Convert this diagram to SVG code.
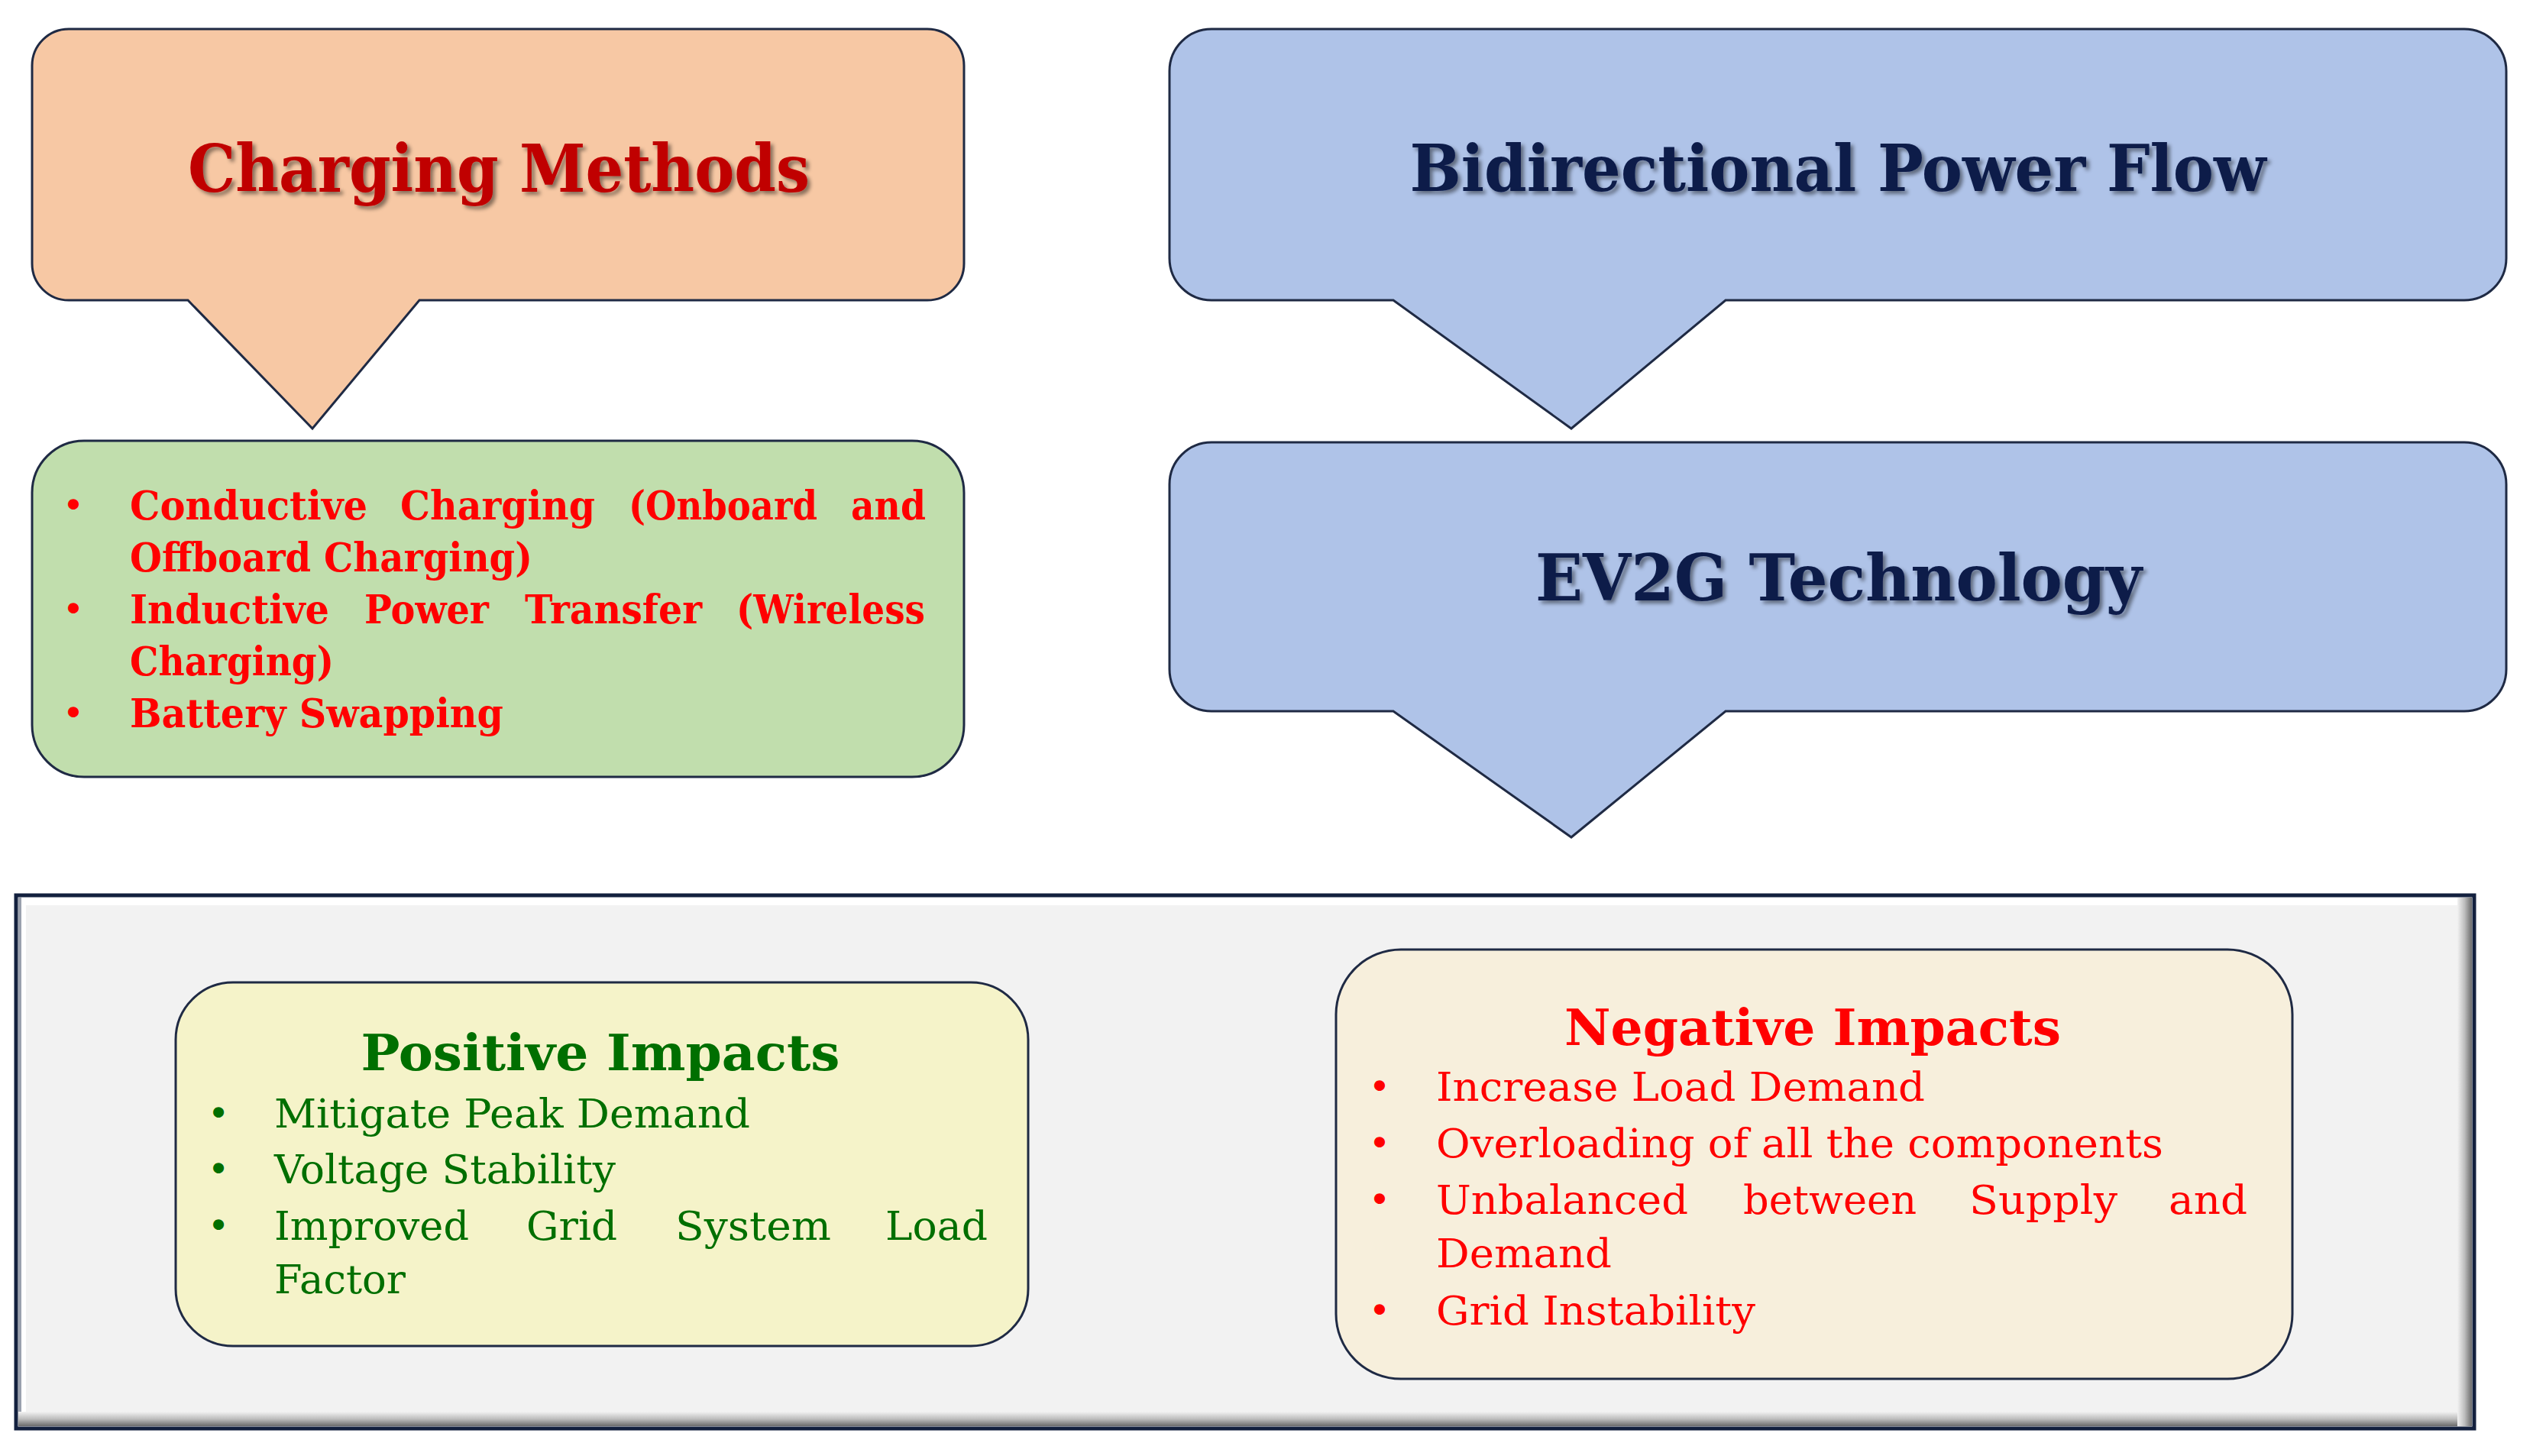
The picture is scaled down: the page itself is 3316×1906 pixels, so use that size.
<svg xmlns="http://www.w3.org/2000/svg" width="3316" height="1906" viewBox="0 0 3316 1906">
<defs>
<style>
.box{stroke:#1F2A44;stroke-width:3}
.title{font-family:"DejaVu Serif","Liberation Serif",serif;font-weight:bold;text-anchor:middle}
.bb{font-family:"DejaVu Serif","Liberation Serif",serif;font-weight:bold;font-size:52px;fill:#FF0000}
.pos{font-family:"DejaVu Serif","Liberation Serif",serif;font-size:52px;fill:#006F00}
.neg{font-family:"DejaVu Serif","Liberation Serif",serif;font-size:52px;fill:#FF0000}
.bul{font-size:40px;text-anchor:middle}
</style>
<filter id="sh" x="-10%" y="-30%" width="120%" height="160%">
<feDropShadow dx="4" dy="4" stdDeviation="2.5" flood-color="#000" flood-opacity="0.45"/>
</filter>
<linearGradient id="gb" x1="0" y1="0" x2="0" y2="1">
<stop offset="0" stop-color="#f2f2f2"/>
<stop offset="0.5" stop-color="#bdbdbd"/>
<stop offset="1" stop-color="#6b6b6b"/>
</linearGradient>
<linearGradient id="gr" x1="0" y1="0" x2="1" y2="0">
<stop offset="0" stop-color="#f2f2f2"/>
<stop offset="0.5" stop-color="#bdbdbd"/>
<stop offset="1" stop-color="#6b6b6b"/>
</linearGradient>
</defs>

<g id="panel">
<rect x="21" y="1172" width="3218" height="698" fill="#F2F2F2" stroke="#13203E" stroke-width="5"/>
<rect x="24" y="1175" width="3212" height="10" fill="#FFFFFF"/>
<rect x="24" y="1175" width="10" height="692" fill="#FFFFFF"/>
<rect x="24" y="1175" width="4" height="692" fill="#9aa0ad"/>
<rect x="24" y="1848" width="3212" height="19" fill="url(#gb)"/>
<rect x="3217" y="1175" width="19" height="692" fill="url(#gr)"/>
</g>

<g id="charging-methods">
<path class="box" fill="#F7C8A4" d="M90,38 H1214 A48,48 0 0 1 1262,86 V345 A48,48 0 0 1 1214,393 H549 L409,561 L246,393 H90 A48,48 0 0 1 42,345 V86 A48,48 0 0 1 90,38 Z"/>
<text class="title" x="653" y="251" font-size="86" fill="#C00000" filter="url(#sh)" textLength="814" lengthAdjust="spacingAndGlyphs">Charging Methods</text>
</g>

<g id="charging-list">
<rect class="box" x="42" y="577" width="1220" height="440" rx="68" ry="68" fill="#C1DEAD"/>
<text class="bb bul" x="96" y="675">•</text>
<text class="bb" x="170" y="680" textLength="311" lengthAdjust="spacingAndGlyphs">Conductive</text>
<text class="bb" x="524" y="680" textLength="255" lengthAdjust="spacingAndGlyphs">Charging</text>
<text class="bb" x="823" y="680" textLength="247" lengthAdjust="spacingAndGlyphs">(Onboard</text>
<text class="bb" x="1114" y="680" textLength="98" lengthAdjust="spacingAndGlyphs">and</text>
<text class="bb" x="170" y="748" textLength="527" lengthAdjust="spacingAndGlyphs">Offboard Charging)</text>
<text class="bb bul" x="96" y="811">•</text>
<text class="bb" x="170" y="816" textLength="261" lengthAdjust="spacingAndGlyphs">Inductive</text>
<text class="bb" x="477" y="816" textLength="163" lengthAdjust="spacingAndGlyphs">Power</text>
<text class="bb" x="687" y="816" textLength="232" lengthAdjust="spacingAndGlyphs">Transfer</text>
<text class="bb" x="964" y="816" textLength="247" lengthAdjust="spacingAndGlyphs">(Wireless</text>
<text class="bb" x="170" y="884" textLength="267" lengthAdjust="spacingAndGlyphs">Charging)</text>
<text class="bb bul" x="96" y="947">•</text>
<text class="bb" x="170" y="952" textLength="489" lengthAdjust="spacingAndGlyphs">Battery Swapping</text>
</g>

<g id="bidirectional">
<path class="box" fill="#AFC3E8" d="M1586,38 H3226 A55,55 0 0 1 3281,93 V338 A55,55 0 0 1 3226,393 H2259 L2057,561 L1824,393 H1586 A55,55 0 0 1 1531,338 V93 A55,55 0 0 1 1586,38 Z"/>
<text class="title" x="2406" y="250" font-size="84" fill="#0A1A4A" filter="url(#sh)" textLength="1121" lengthAdjust="spacingAndGlyphs">Bidirectional Power Flow</text>
</g>

<g id="ev2g">
<path class="box" fill="#AFC3E8" d="M1586,579 H3226 A55,55 0 0 1 3281,634 V876 A55,55 0 0 1 3226,931 H2259 L2057,1096 L1824,931 H1586 A55,55 0 0 1 1531,876 V634 A55,55 0 0 1 1586,579 Z"/>
<text class="title" x="2407" y="786" font-size="84" fill="#0A1A4A" filter="url(#sh)" textLength="794" lengthAdjust="spacingAndGlyphs">EV2G Technology</text>
</g>

<g id="positive">
<rect class="box" x="230" y="1286" width="1116" height="476" rx="75" ry="75" fill="#F5F3C9"/>
<text class="title" x="786" y="1401" font-size="66" fill="#006F00" textLength="627" lengthAdjust="spacingAndGlyphs">Positive Impacts</text>
<text class="pos bul" x="286" y="1471" font-weight="bold">•</text>
<text class="pos" x="359" y="1476" textLength="623" lengthAdjust="spacingAndGlyphs">Mitigate Peak Demand</text>
<text class="pos bul" x="286" y="1544" font-weight="bold">•</text>
<text class="pos" x="359" y="1549" textLength="447" lengthAdjust="spacingAndGlyphs">Voltage Stability</text>
<text class="pos bul" x="286" y="1618" font-weight="bold">•</text>
<text class="pos" x="359" y="1623" textLength="255" lengthAdjust="spacingAndGlyphs">Improved</text>
<text class="pos" x="689" y="1623" textLength="119" lengthAdjust="spacingAndGlyphs">Grid</text>
<text class="pos" x="884" y="1623" textLength="204" lengthAdjust="spacingAndGlyphs">System</text>
<text class="pos" x="1159" y="1623" textLength="134" lengthAdjust="spacingAndGlyphs">Load</text>
<text class="pos" x="359" y="1693" textLength="172" lengthAdjust="spacingAndGlyphs">Factor</text>
</g>

<g id="negative">
<rect class="box" x="1749" y="1243" width="1252" height="562" rx="85" ry="85" fill="#F7EFDC"/>
<text class="title" x="2373" y="1368" font-size="66" fill="#FF0000" textLength="650" lengthAdjust="spacingAndGlyphs">Negative Impacts</text>
<text class="neg bul" x="1806" y="1436" font-weight="bold">•</text>
<text class="neg" x="1880" y="1441" textLength="640" lengthAdjust="spacingAndGlyphs">Increase Load Demand</text>
<text class="neg bul" x="1806" y="1510" font-weight="bold">•</text>
<text class="neg" x="1880" y="1515" textLength="952" lengthAdjust="spacingAndGlyphs">Overloading of all the components</text>
<text class="neg bul" x="1806" y="1584" font-weight="bold">•</text>
<text class="neg" x="1880" y="1589" textLength="330" lengthAdjust="spacingAndGlyphs">Unbalanced</text>
<text class="neg" x="2282" y="1589" textLength="227" lengthAdjust="spacingAndGlyphs">between</text>
<text class="neg" x="2578" y="1589" textLength="194" lengthAdjust="spacingAndGlyphs">Supply</text>
<text class="neg" x="2839" y="1589" textLength="103" lengthAdjust="spacingAndGlyphs">and</text>
<text class="neg" x="1880" y="1659" textLength="230" lengthAdjust="spacingAndGlyphs">Demand</text>
<text class="neg bul" x="1806" y="1729" font-weight="bold">•</text>
<text class="neg" x="1880" y="1734" textLength="418" lengthAdjust="spacingAndGlyphs">Grid Instability</text>
</g>

<g id="connectors"></g>
</svg>
